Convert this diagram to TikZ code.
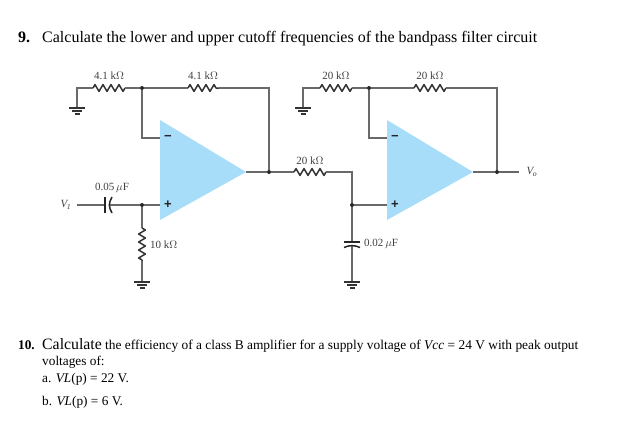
\documentclass[tikz,border=0pt]{standalone}
\usepackage{fontspec}
\setmainfont{Liberation Serif}
\newfontfamily\signfont{Liberation Sans}
\usetikzlibrary{decorations.pathmorphing,calc}
\definecolor{opblue}{RGB}{168,221,250}
\definecolor{wirec}{RGB}{105,105,105}
\tikzset{
  wire/.style={draw=wirec,line width=1.1pt},
  res/.style={draw=black!80,line width=1.5pt,line join=round,decorate,decoration={zigzag,amplitude=3.4pt,segment length=8pt}},
  opamp/.style={fill=opblue,draw=none},
  dot/.style={circle,fill=black!85,inner sep=0pt,minimum size=4pt},
  lbl/.style={inner sep=0pt,font=\fontsize{11}{11}\selectfont,text=black!75},
  txt/.style={inner sep=0pt,anchor=base west,text=black},
  sign/.style={inner sep=0pt,font=\fontsize{13}{13}\selectfont\signfont\bfseries,text=black!85},
  gndbar/.style={draw=black!80,line width=1.5pt},
}
\newcommand{\gnd}[1]{%
  \draw[gndbar] ($(#1)+(-8,0)$) -- ($(#1)+(8,0)$);
  \draw[gndbar] ($(#1)+(-5,3)$) -- ($(#1)+(5,3)$);
  \draw[gndbar] ($(#1)+(-2.5,6)$) -- ($(#1)+(2.5,6)$);
}
\begin{document}
\begin{tikzpicture}[x=1pt,y=-1pt]
\useasboundingbox[fill=white] (0,0) rectangle (629,442);
% --- text
\node[txt,font=\fontsize{16}{16}\selectfont\bfseries] (q9) at (18,42.5) {9.};
\node[txt,font=\fontsize{16}{16}\selectfont] (q9t) at (42,42.5) {Calculate the lower and upper cutoff frequencies of the bandpass filter circuit};
\node[txt,font=\fontsize{13.3}{13.3}\selectfont\bfseries] (q10) at (18,349) {10.};
\node[txt,font=\fontsize{13.4}{13.4}\selectfont] (q10t) at (42,349) {{\fontsize{15.8}{15.8}\selectfont Calculate} the efficiency of a class B amplifier for a supply voltage of \textit{Vcc} = 24 V with peak output};
\node[txt,font=\fontsize{13.3}{13.3}\selectfont] (q10l) at (42,365) {voltages of:};
\node[txt,font=\fontsize{13.3}{13.3}\selectfont] (qa) at (42,382) {a. \textit{VL}(p) = 22 V.};
\node[txt,font=\fontsize{13.3}{13.3}\selectfont] (qb) at (42,405) {b. \textit{VL}(p) = 6 V.};
% --- op amps
\coordinate (a1t) at (160,120); \coordinate (a1b) at (160,220); \coordinate (a1o) at (246,172);
\coordinate (a2t) at (387,120); \coordinate (a2b) at (387,220); \coordinate (a2o) at (473,172);
\coordinate (a1m) at (160,138); \coordinate (a1p) at (160,205);
\coordinate (a2m) at (387,138); \coordinate (a2p) at (387,205);
\fill[opamp] (a1t) -- (a1o) -- (a1b) -- cycle;
\fill[opamp] (a2t) -- (a2o) -- (a2b) -- cycle;
\node[sign] (s1m) at (168,138) {\textminus};
\node[sign] (s1p) at (168,205) {+};
\node[sign] (s2m) at (395,138) {\textminus};
\node[sign] (s2p) at (395,205) {+};
% --- first stage
\coordinate (g1) at (77,108);
\coordinate (g1t) at (77,88);
\coordinate (r1a) at (93,88); \coordinate (r1b) at (125,88);
\node[dot] (n1) at (142,88) {};
\coordinate (r2a) at (188,88); \coordinate (r2b) at (219,88);
\coordinate (c1) at (269,88);
\node[dot] (n2) at (269,172) {};
\coordinate (m1) at (142,138);
\draw[wire] (g1) -- (g1t) -- (r1a);
\draw[res] (r1a) -- (r1b);
\draw[wire] (r1b) -- (n1) -- (r2a);
\draw[res] (r2a) -- (r2b);
\draw[wire] (r2b) -- (c1) -- (n2);
\draw[wire] (n1) -- (m1) -- (a1m);
\draw[wire] (a1o) -- (n2);
\gnd{g1}
\node[lbl] (l1) at (109,76) {4.1 k$\Omega$};
\node[lbl] (l2) at (203,76) {4.1 k$\Omega$};
% input
\node[lbl,font=\fontsize{11}{11}\selectfont\itshape] (v1) at (66,205) {V\textsubscript{\kern-0.5pt 1}};
\coordinate (v1e) at (77,205);
\coordinate (ca) at (105,205); \coordinate (cb) at (110,205);
\node[dot] (n3) at (142,205) {};
\draw[wire] (v1e) -- (ca);
\draw[wire] (cb) -- (n3) -- (a1p);
\draw[black!85,line width=1.5pt] (105,197) -- (105,213);
\draw[black!85,line width=1.5pt] (112,197) .. controls (108.5,203) and (108.5,207) .. (112,213);
\node[lbl] (l3) at (112,188) {0.05\,$\mu$F};
\coordinate (r3a) at (142,228); \coordinate (r3b) at (142,261);
\coordinate (g2) at (142,282);
\draw[wire] (n3) -- (r3a);
\draw[res] (r3a) -- (r3b);
\draw[wire] (r3b) -- (g2);
\gnd{g2}
\node[lbl,anchor=west] (l4) at (150,245) {10 k$\Omega$};
% --- second stage
\coordinate (g3) at (303,108);
\coordinate (g3t) at (303,88);
\coordinate (r4a) at (320,88); \coordinate (r4b) at (352,88);
\node[dot] (n4) at (369,88) {};
\coordinate (r5a) at (414,88); \coordinate (r5b) at (446,88);
\coordinate (c2) at (497,88);
\node[dot] (n5) at (497,172) {};
\coordinate (m2) at (369,138);
\draw[wire] (g3) -- (g3t) -- (r4a);
\draw[res] (r4a) -- (r4b);
\draw[wire] (r4b) -- (n4) -- (r5a);
\draw[res] (r5a) -- (r5b);
\draw[wire] (r5b) -- (c2) -- (n5);
\draw[wire] (n4) -- (m2) -- (a2m);
\draw[wire] (a2o) -- (n5);
\gnd{g3}
\node[lbl] (l5) at (336,76) {20 k$\Omega$};
\node[lbl] (l6) at (430,76) {20 k$\Omega$};
\coordinate (vo) at (519,172);
\draw[wire,draw=black!60] (n5) -- (vo);
\node[lbl,font=\fontsize{11}{11}\selectfont\itshape] (vol) at (532,172) {V\textsubscript{\kern-0.5pt o}};
% interstage
\coordinate (r6a) at (294,172); \coordinate (r6b) at (326,172);
\coordinate (k) at (352,172);
\node[dot] (n6) at (352,205) {};
\coordinate (g4) at (352,282);
\coordinate (c3a) at (352,242); \coordinate (c3b) at (352,246);
\draw[wire] (n2) -- (r6a);
\draw[res] (r6a) -- (r6b);
\draw[wire] (r6b) -- (k) -- (n6) -- (a2p);
\draw[wire] (n6) -- (c3a);
\draw[wire] (c3b) -- (g4);
\draw[black!85,line width=1.5pt] (344,242) -- (360,242);
\draw[black!85,line width=1.5pt] (344,247.5) .. controls (349,245) and (355,245) .. (360,247.5);
\gnd{g4}
\node[lbl] (l7) at (310,161) {20 k$\Omega$};
\node[lbl,anchor=west] (l8) at (364,244) {0.02\,$\mu$F};
\end{tikzpicture}
\end{document}
